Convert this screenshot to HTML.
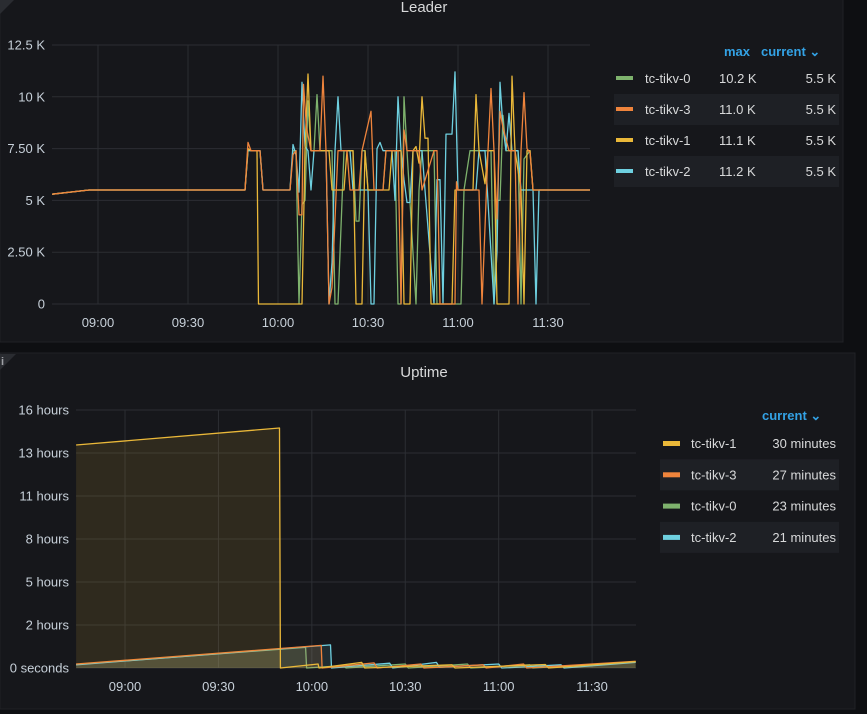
<!DOCTYPE html>
<html><head><meta charset="utf-8"><style>
html,body{margin:0;padding:0;background:#0e0f12;width:867px;height:714px;overflow:hidden;font-family:"Liberation Sans",sans-serif;}
svg text{font-family:"Liberation Sans",sans-serif;}
</style></head><body>
<svg id="c" width="867" height="714" xmlns="http://www.w3.org/2000/svg">
<rect x="0" y="-5" width="843" height="347" fill="#16171b" stroke="#202226"/>
<rect x="0" y="353" width="855" height="356" fill="#16171b" stroke="#202226"/>
<polygon points="0,0 14,0 0,14" fill="#2a2c31"/>
<polygon points="0,354 16,354 0,370" fill="#2a2c31"/>
<text x="1" y="365" fill="#9fa1a6" font-size="11" font-weight="bold">i</text>
<text x="424" y="12" fill="#d8d9da" font-size="15" text-anchor="middle">Leader</text>
<text x="424" y="377" fill="#d8d9da" font-size="15" text-anchor="middle">Uptime</text>
<g id="top"></g><g id="bot"></g><g id="leg"></g>
</svg>
<script>
const NS="http://www.w3.org/2000/svg";
function mk(p,tag,attrs){const e=document.createElementNS(NS,tag);for(const k in attrs)e.setAttribute(k,attrs[k]);p.appendChild(e);return e;}
// ---- Leader data (minutes since 09:00, value in K)
const leaderNames=["tc-tikv-0","tc-tikv-2","tc-tikv-1","tc-tikv-3"];
const leaderColors=["#7eb26d","#6ed0e0","#eab839","#ef843c"];
const leaderTickVals=[0,2.5,5,7.5,10,12.5];
const leaderTickLabels=["0","2.50 K","5 K","7.50 K","10 K","12.5 K"];
const timeTickVals=[0,30,60,90,120,150];
const timeTickLabels=["09:00","09:30","10:00","10:30","11:00","11:30"];
const leader0=[[-15.3,5.3],[-3,5.5],[49,5.5],[50,7.5],[51,7.4],[54,7.4],[55,5.5],[64,5.5],[65,7.4],[66,7.4],[67,0],[68,4.8],[69,5.0],[70,9.8],[71,7.4],[72,7.4],[73,10.1],[74,7.4],[78,7.4],[79,0],[80,0],[82,7.4],[85,7.4],[86,4.0],[87,4.0],[88,7.4],[89,7.4],[90,5.5],[95,5.5],[96,7.4],[99,7.4],[100,0],[101,0],[102,10.0],[103,7.4],[106,0],[107,5.5],[108,7.4],[112,7.4],[113,0],[121,0],[122,5.5],[124,7.4],[131,7.4],[132,0],[133,5.0],[134,5.0],[135,9.1],[136,7.4],[140,7.4],[141,0],[142,7.0],[144,7.4],[145,5.5],[164,5.5]];
const leader2=[[-15.3,5.3],[-3,5.5],[49,5.5],[50,7.4],[54,7.4],[55,5.5],[64,5.5],[65,7.7],[66,7.2],[67,5.4],[68,10.7],[69,7.6],[70,7.4],[71,5.5],[72,7.4],[76,7.4],[77,0],[78,2],[79,7.4],[80,10.0],[81,7.4],[84,7.4],[85,5.5],[90,5.5],[91,0],[92,0],[93,7.5],[94,7.8],[95,7.4],[98,7.4],[99,5.0],[100,10.0],[101,7.4],[102,6],[103,4.9],[104,4.9],[105,7.4],[108,7.4],[109,5.5],[112,0],[113,6.0],[114,6.0],[115,0],[116,8.2],[118,8.2],[119,11.2],[120,5.5],[126,5.5],[127,7.4],[129,7.4],[132,0],[133,2.5],[134,10.7],[135,8.5],[136,7.4],[137,9.2],[138,7.4],[140,7.4],[141,5.5],[145,5.5],[146,0],[147,5.5],[164,5.5]];
const leader1=[[-15.3,5.3],[-3,5.5],[49,5.5],[50,7.5],[51,7.4],[53,7.4],[53.5,0],[68,0],[69,7.4],[70,11.1],[71,7.4],[77,7.4],[78,5.5],[82,5.5],[83,7.4],[85,7.4],[86,0],[88,0],[89,7.4],[90,5.5],[97,5.5],[98,7.4],[101,7.4],[102,0],[104,0],[105,7.4],[106,7.6],[107,6.8],[108,10.0],[109,8.0],[110,8.0],[111,0],[118,0],[119,5.5],[125,5.5],[126,10.1],[127,7.4],[129,5.8],[130,7.4],[132,7.4],[133,0],[137,0],[138,11.0],[139,7.4],[141,5.5],[142,0],[143,7.4],[144,7.4],[145,5.5],[164,5.5]];
const leader3=[[-15.3,5.3],[-3,5.5],[49,5.5],[50,7.8],[51,7.4],[54,7.4],[55,5.5],[64,5.5],[65,7.2],[66,7.4],[67,4.3],[68,4.3],[68.5,10.6],[69.5,8.5],[71,7.4],[74,7.4],[75,11.0],[76,7.4],[77,0],[78,0.8],[80,7.4],[83,7.4],[84,5.5],[87,5.5],[88,7.4],[91,9.3],[92,5.5],[95,5.5],[96,7.4],[100,7.4],[101,0],[102,8.4],[103,7.4],[107,7.4],[108,5.5],[112,7.4],[113,7.4],[114,0],[119,0],[119.5,5.9],[120,5.5],[127,5.5],[128,0],[130,7.4],[131,10.4],[132,7.4],[133,4.1],[134,9.3],[135,8.5],[137,7.4],[139,7.4],[140,0],[141,7.4],[142,10.2],[143,7.5],[144,7.3],[145,5.5],[164,5.5]];
const leaderSeries=[leader0,leader2,leader1,leader3];
// ---- Uptime data (minutes since 09:00, value in hours)
const upNames=["tc-tikv-0","tc-tikv-2","tc-tikv-3","tc-tikv-1"];
const upColors=["#7eb26d","#6ed0e0","#ef843c","#eab839"];
const upTickVals=[0,2.7,5.4,8.1,10.8,13.5,16.2];
const upTickLabels=["0 seconds","2 hours","5 hours","8 hours","11 hours","13 hours","16 hours"];
const up0=[[-15.7,0.22],[58,1.3],[58.3,0],[70,0.15],[71,0],[90,0.25],[91,0],[110,0.25],[111,0],[130,0.2],[131,0],[164,0.38]];
const up2=[[-15.7,0.2],[66,1.45],[66.3,0],[85,0.3],[86,0],[100,0.35],[101,0.05],[120,0.25],[121,0],[140,0.2],[141,0],[164,0.35]];
const up3=[[-15.7,0.25],[63,1.42],[63.3,0],[80,0.32],[81,0],[95,0.25],[96,0],[115,0.2],[116,0],[128,0.25],[129,0],[164,0.42]];
const up1=[[-15.7,14.0],[49.6,15.07],[49.9,0],[62,0.25],[62.3,0],[76,0.35],[77,0],[105,0.2],[106,0],[135,0.22],[136,0],[164,0.4]];
const upSeries=[up0,up2,up3,up1];

function chart(g,L,R,T,B,tmin,tmax,vmax,tickVals,tickLabels,series,colors,fill,prefix,labelX){
  const xs=m=>L+(m-tmin)/(tmax-tmin)*(R-L);
  const ys=v=>B-v/vmax*(B-T);
  tickVals.forEach((v,i)=>{
    const l=mk(g,'line',{x1:L,x2:R,y1:ys(v),y2:ys(v),stroke:'#2c2e33','stroke-width':1});
    
    
    const t=mk(g,'text',{x:labelX,y:ys(v)+4.5,fill:'#c7d0d9','font-size':13,'text-anchor':'end'});
    t.textContent=tickLabels[i];
    
    
  });
  timeTickVals.forEach((v,i)=>{
    const l=mk(g,'line',{x1:xs(v),x2:xs(v),y1:T,y2:B,stroke:'#2c2e33','stroke-width':1});
    
    
    const t=mk(g,'text',{x:xs(v),y:B+23,fill:'#c7d0d9','font-size':13,'text-anchor':'middle'});
    t.textContent=timeTickLabels[i];
    
    
  });
  series.forEach((s,i)=>{
    const pts=s.map(p=>xs(p[0]).toFixed(1)+','+ys(p[1]).toFixed(1)).join(' ');
    if(fill){
      const a=mk(g,'polygon',{points:xs(s[0][0])+','+B+' '+pts+' '+xs(s[s.length-1][0])+','+B,fill:colors[i],'fill-opacity':0.12});
      
      
    }
    const p=mk(g,'polyline',{points:pts,fill:'none',stroke:colors[i],'stroke-width':1.3,'stroke-linejoin':'round'});
    
    
  });
}
chart(document.getElementById('top'),52,590,45,304,-15.33,164,12.5,leaderTickVals,leaderTickLabels,leaderSeries,leaderColors,false,'leader',45);
chart(document.getElementById('bot'),76,636,410,668,-15.74,164.1,16.2,upTickVals,upTickLabels,upSeries,upColors,true,'uptime',69);

// Legends
const leg=document.getElementById('leg');
const topLeg=[["#7eb26d","tc-tikv-0","10.2 K","5.5 K"],["#ef843c","tc-tikv-3","11.0 K","5.5 K"],["#eab839","tc-tikv-1","11.1 K","5.5 K"],["#6ed0e0","tc-tikv-2","11.2 K","5.5 K"]];
function hdr(x,y,txt,anchor){const t=mk(leg,'text',{x:x,y:y,fill:'#33a2e5','font-size':13,'font-weight':'bold','text-anchor':anchor});t.textContent=txt;return t;}
let h=hdr(750,56,'max','end');
h=hdr(761,56,'current ⌄','start');
topLeg.forEach((r,i)=>{
  const y=78+i*31;
  if(i%2==1){const b=mk(leg,'rect',{x:614,y:y-15,width:225,height:31,fill:'#1e2025'});}
  const sw=mk(leg,'rect',{x:616,y:y-2,width:17,height:4,fill:r[0]});
  const a=mk(leg,'text',{x:645,y:y+5,fill:'#d8d9da','font-size':13});a.textContent=r[1];
  const b=mk(leg,'text',{x:719,y:y+5,fill:'#d8d9da','font-size':13});b.textContent=r[2];
  const c=mk(leg,'text',{x:836,y:y+5,fill:'#d8d9da','font-size':13,'text-anchor':'end'});c.textContent=r[3];
});
h=hdr(762,420,'current ⌄','start');
const botLeg=[["#eab839","tc-tikv-1","30 minutes"],["#ef843c","tc-tikv-3","27 minutes"],["#7eb26d","tc-tikv-0","23 minutes"],["#6ed0e0","tc-tikv-2","21 minutes"]];
botLeg.forEach((r,i)=>{
  const y=443+i*31.3;
  if(i%2==1){const b=mk(leg,'rect',{x:660,y:y-15,width:179,height:31,fill:'#1e2025'});}
  const sw=mk(leg,'rect',{x:663,y:y-2,width:17,height:5,fill:r[0]});
  const a=mk(leg,'text',{x:691,y:y+5,fill:'#d8d9da','font-size':13});a.textContent=r[1];
  const c=mk(leg,'text',{x:836,y:y+5,fill:'#d8d9da','font-size':13,'text-anchor':'end'});c.textContent=r[2];
});
</script>
</body></html>
